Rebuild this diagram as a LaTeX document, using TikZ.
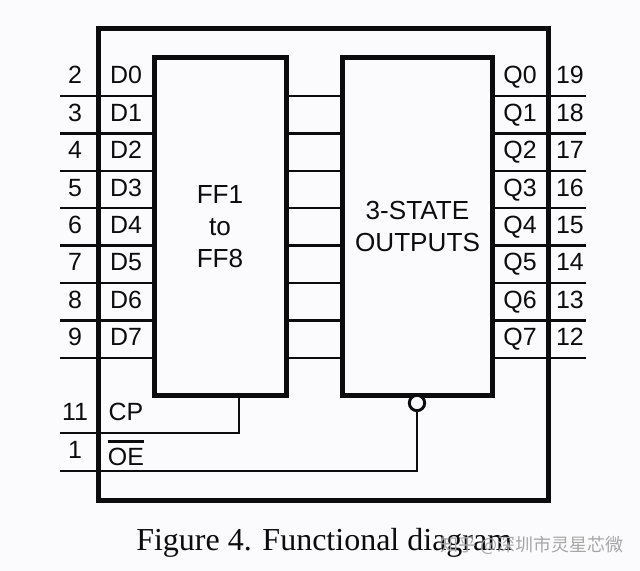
\documentclass[tikz,border=0pt]{standalone}
\usepackage{fontspec}
\setmainfont{Liberation Sans}
\newfontfamily\capfont{Liberation Serif}
\newfontfamily\cjkfont{Noto Sans CJK SC}
\definecolor{paper}{HTML}{FBFBFD}
\definecolor{ink}{HTML}{0C0C0E}
\tikzset{
	block/.style={draw=ink, line width=3.75pt, rectangle, outer sep=0pt, align=center, text=ink, font=\fontsize{19.6}{24}\selectfont},
	wire/.style={draw=ink, line width=1.7pt},
	pinlabel/.style={text=ink, inner sep=0pt, text height=13.4pt, text depth=0pt, font=\fontsize{18.7}{20}\selectfont},
}
\begin{document}
\begin{tikzpicture}[x=0.75pt, y=-0.75pt]
	\useasboundingbox[fill=paper] (0,0) rectangle (640,571);
	\node[block, minimum width=338pt, minimum height=354pt] (chipbox) at (323.5,264) {};
	\node[block, minimum width=99pt, minimum height=253pt] (ffbox) at (220,226.5) {FF1\\to\\FF8};
	\node[block, minimum width=112pt, minimum height=253pt] (outbox) at (417.5,226.5) {3-STATE\\OUTPUTS};
	\foreach \i/\dnum/\qnum in {0/2/19,1/3/18,2/4/17,3/5/16,4/6/15,5/7/14,6/8/13,7/9/12} {
		\coordinate (inpin\i) at (60,96+37.4*\i);
		\coordinate (outpin\i) at (586,96+37.4*\i);
		\draw[wire] (inpin\i) -- (inpin\i -| ffbox.west);
		\draw[wire] (ffbox.east |- inpin\i) -- (outbox.west |- inpin\i);
		\draw[wire] (outbox.east |- outpin\i) -- (outpin\i);
		\node[pinlabel] (dnum\i) at (75,75+37.4*\i) {\dnum};
		\node[pinlabel] (dname\i) at (126,75+37.4*\i) {D\i};
		\node[pinlabel] (qname\i) at (520,75+37.4*\i) {Q\i};
		\node[pinlabel] (qnum\i) at (570,75+37.4*\i) {\qnum};
	}
	\node[pinlabel] (cpnum) at (75,412) {11};
	\node[pinlabel] (cpname) at (126,412) {CP};
	\node[pinlabel] (oenum) at (75,450) {1};
	\node[pinlabel] (oename) at (126,457) {OE};
	\coordinate (cppin) at (60,433);
	\coordinate (oepin) at (60,471);
	\coordinate (cpdrop) at (239,395);
	\node[draw=ink, line width=2.2pt, fill=paper, circle, inner sep=0pt, minimum size=11.5pt, outer sep=0pt] (oebubble) at (417,403) {};
	\draw[wire] (cppin) -| (cpdrop);
	\draw[wire] (oepin) -| (oebubble.south);
	\draw[draw=ink, line width=2pt] ([yshift=4.5pt]oename.north west) -- ([yshift=4.5pt]oename.north east);
	\node[text=ink, inner sep=0pt, anchor=west, font=\capfont\fontsize{24}{26}\selectfont] (caption) at (136,543) {Figure 4. Functional diagram};
	\node[text=black!35, inner sep=0pt, anchor=east, font=\cjkfont\fontsize{13.5}{16}\selectfont] (mark) at (624,545) {知乎 @深圳市灵星芯微};
\end{tikzpicture}
\end{document}
